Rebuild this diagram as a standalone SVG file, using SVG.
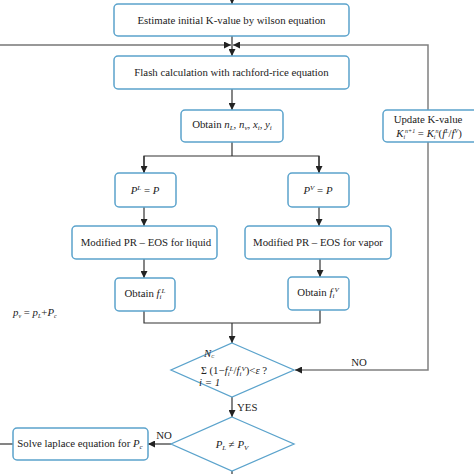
<svg xmlns="http://www.w3.org/2000/svg" width="474" height="474" viewBox="0 0 474 474">
<style>
.box{fill:#fff;stroke:#5ba3cc;stroke-width:1.5}
.dia{fill:#fff;stroke:#5ba3cc;stroke-width:1.3}
.ln{fill:none;stroke:#333;stroke-width:1.2}
.lg{fill:none;stroke:#808080;stroke-width:1.5}
text{font-family:"Liberation Serif",serif;font-size:10.8px;fill:#222}
.c{text-anchor:middle}
.i{font-style:italic}
</style>
<defs>
<marker id="ah" viewBox="0 0 10 10" refX="10" refY="5" markerWidth="7" markerHeight="7" orient="auto" markerUnits="userSpaceOnUse">
<path d="M0,0 L10,5 L0,10 z" fill="#222"/>
</marker>
</defs>
<g id="connectors">
<line class="ln" x1="232" y1="0" x2="232" y2="4" marker-end="url(#ah)"/>
<line class="ln" x1="232" y1="36" x2="232" y2="56" marker-end="url(#ah)"/>
<line class="ln" x1="0" y1="45" x2="231" y2="45" marker-end="url(#ah)"/>
<polyline class="lg" points="428,110 428,45 233,45" marker-end="url(#ah)"/>
<line class="ln" x1="232" y1="89" x2="232" y2="110" marker-end="url(#ah)"/>
<polyline class="ln" points="232,142 232,156"/>
<polyline class="ln" points="144,173 144,156 319,156 319,173"/>
<line class="ln" x1="144" y1="156" x2="144" y2="173" marker-end="url(#ah)"/>
<line class="ln" x1="319" y1="156" x2="319" y2="173" marker-end="url(#ah)"/>
<line class="ln" x1="144" y1="207" x2="144" y2="226" marker-end="url(#ah)"/>
<line class="ln" x1="319" y1="207" x2="319" y2="226" marker-end="url(#ah)"/>
<line class="ln" x1="144" y1="259" x2="144" y2="278" marker-end="url(#ah)"/>
<line class="ln" x1="320" y1="259" x2="320" y2="277" marker-end="url(#ah)"/>
<polyline class="ln" points="144,311 144,323 320,323 320,310"/>
<line class="ln" x1="232" y1="323" x2="232" y2="343" marker-end="url(#ah)"/>
<polyline class="lg" points="428,142 428,370 295,370" marker-end="url(#ah)"/>
<line class="ln" x1="232" y1="397" x2="232" y2="417" marker-end="url(#ah)"/>
<line class="ln" x1="171" y1="444" x2="148" y2="444" marker-end="url(#ah)"/>
<line class="ln" x1="0" y1="444" x2="13" y2="444"/>
<line class="ln" x1="232" y1="471" x2="232" y2="474"/>
<text x="359" y="366" class="c">NO</text>
<text x="237" y="411">YES</text>
<text x="164" y="439" class="c">NO</text>
</g>
<g id="n1">
<rect class="box" x="114" y="4" width="235" height="32" rx="4"/>
<text x="231.5" y="23.5" class="c">Estimate initial K-value by wilson equation</text>
</g>
<g id="n2">
<rect class="box" x="114" y="56" width="235" height="33" rx="4"/>
<text x="231.5" y="76" class="c">Flash calculation with rachford-rice equation</text>
</g>
<g id="n3">
<rect class="box" x="181" y="110" width="102" height="32" rx="4"/>
<text x="232" y="128" class="c">Obtain <tspan class="i">n</tspan><tspan class="i" font-size="7" dy="2">L</tspan><tspan dy="-2">, </tspan><tspan class="i">n</tspan><tspan class="i" font-size="7" dy="2">v</tspan><tspan dy="-2">, </tspan><tspan class="i">x</tspan><tspan class="i" font-size="7" dy="2">i</tspan><tspan dy="-2">, </tspan><tspan class="i">y</tspan><tspan class="i" font-size="7" dy="2">i</tspan></text>
</g>
<g id="n4">
<rect class="box" x="115" y="173" width="61" height="34" rx="4"/>
<text x="145" y="194" class="c"><tspan class="i">P</tspan><tspan class="i" font-size="7" dy="-4">L</tspan><tspan dy="4"> = </tspan><tspan class="i">P</tspan></text>
</g>
<g id="n5">
<rect class="box" x="288" y="173" width="61" height="34" rx="4"/>
<text x="318" y="194" class="c"><tspan class="i">P</tspan><tspan class="i" font-size="7" dy="-4">V</tspan><tspan dy="4"> = </tspan><tspan class="i">P</tspan></text>
</g>
<g id="n6">
<rect class="box" x="72" y="226" width="145" height="33" rx="4"/>
<text x="146" y="246" class="c">Modified PR – EOS for liquid</text>
</g>
<g id="n7">
<rect class="box" x="245" y="226" width="146" height="33" rx="4"/>
<text x="318" y="246" class="c">Modified PR – EOS for vapor</text>
</g>
<g id="n8">
<rect class="box" x="115" y="278" width="60" height="33" rx="4"/>
<text x="145" y="297" class="c">Obtain <tspan class="i">f</tspan><tspan class="i" font-size="7" dy="2">i</tspan><tspan class="i" font-size="7" dy="-6">L</tspan><tspan dy="4"> </tspan></text>
</g>
<g id="n9">
<rect class="box" x="288" y="277" width="61" height="33" rx="4"/>
<text x="318" y="296" class="c">Obtain <tspan class="i">f</tspan><tspan class="i" font-size="7" dy="2">i</tspan><tspan class="i" font-size="7" dy="-6">V</tspan><tspan dy="4"> </tspan></text>
</g>
<g id="n10">
<rect class="box" x="383" y="110" width="94" height="32" rx="4"/>
<text x="428" y="123" class="c">Update K-value</text>
<text x="429" y="137" class="c"><tspan class="i">K</tspan><tspan class="i" font-size="6" dy="2">i</tspan><tspan class="i" font-size="6" dy="-6">n+1</tspan><tspan dy="4"> = </tspan><tspan class="i">K</tspan><tspan class="i" font-size="6" dy="2">i</tspan><tspan class="i" font-size="6" dy="-6">n</tspan><tspan dy="4">(</tspan><tspan class="i">f</tspan><tspan class="i" font-size="6" dy="-4">L</tspan><tspan dy="4">/</tspan><tspan class="i">f</tspan><tspan class="i" font-size="6" dy="-4">V</tspan><tspan dy="4">)</tspan></text>
</g>
<g id="n11">
<polygon class="dia" points="232,343 294,370 232,397 171,370"/>
<text x="204" y="357" class="i" font-size="6">N<tspan font-size="4.5" dy="1">C</tspan></text>
<text x="201" y="374"><tspan font-size="10">Σ</tspan> (1−<tspan class="i">f</tspan><tspan class="i" font-size="7" dy="2">i</tspan><tspan class="i" font-size="7" dy="-5">L</tspan><tspan dy="3">/</tspan><tspan class="i">f</tspan><tspan class="i" font-size="7" dy="2">i</tspan><tspan class="i" font-size="7" dy="-5">V</tspan><tspan dy="3">)&lt;</tspan><tspan class="i">ε</tspan> ?</text>
<text x="199" y="386" class="i" font-size="4.5">i = 1</text>
</g>
<g id="n12">
<polygon class="dia" points="232,417 294,444 232,471 171,444"/>
<text x="232" y="448" class="c"><tspan class="i">P</tspan><tspan class="i" font-size="7" dy="2">L</tspan><tspan dy="-2"> ≠ </tspan><tspan class="i">P</tspan><tspan class="i" font-size="7" dy="2">V</tspan></text>
</g>
<g id="n13">
<rect class="box" x="13" y="428" width="135" height="32" rx="4"/>
<text x="80" y="447" class="c">Solve laplace equation for <tspan class="i">P</tspan><tspan class="i" font-size="7" dy="2">c</tspan></text>
</g>
<g id="n14">
<text x="13" y="316" font-size="9"><tspan class="i">p</tspan><tspan class="i" font-size="6" dy="2">v</tspan><tspan dy="-2"> = </tspan><tspan class="i">p</tspan><tspan class="i" font-size="6" dy="2">L</tspan><tspan dy="-2">+</tspan><tspan class="i">P</tspan><tspan class="i" font-size="6" dy="2">c</tspan></text>
</g>
</svg>
